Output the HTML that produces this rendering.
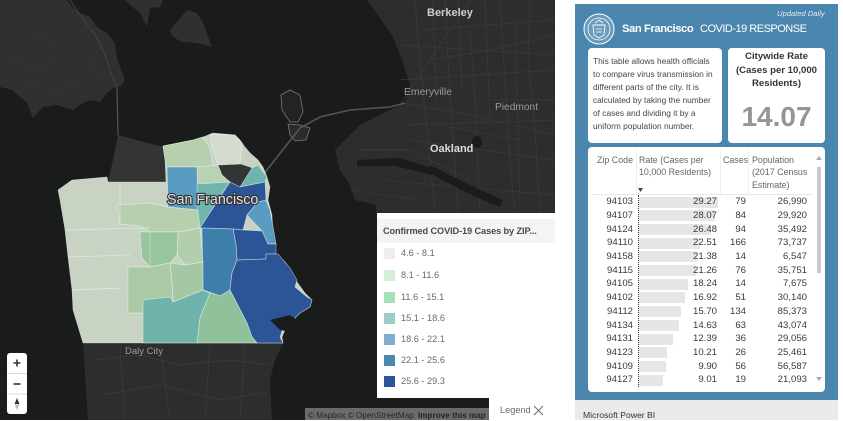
<!DOCTYPE html>
<html>
<head>
<meta charset="utf-8">
<style>
  html,body{margin:0;padding:0;background:#fff;}
  body{width:843px;height:420px;overflow:hidden;position:relative;font-family:"Liberation Sans",sans-serif;}
  .abs{position:absolute;}
  .panel{left:575px;top:4px;width:263px;height:396px;background:#4a86ae;}
  .box{background:#fff;border-radius:4px;position:absolute;}
  .row{position:absolute;left:0;width:843px;height:13.7px;font-size:9.6px;color:#3a3a3a;line-height:13.7px;}
  .row div{position:absolute;top:0;text-align:right;}
  .bar{position:absolute;background:#e6e6e6;height:11px;}
  .lg{position:absolute;left:384px;width:11px;height:11px;}
  .lt{position:absolute;left:401px;font-size:9.2px;color:#6a6a6a;line-height:12px;}
</style>
</head>
<body>

<!-- MAP -->
<svg class="abs" style="left:0;top:0" width="555" height="420" viewBox="0 0 555 420" xmlns="http://www.w3.org/2000/svg">
  <rect width="555" height="420" fill="#1a1b1b"/>
  <!-- Marin -->
  <polygon fill="#2f3030" points="0,0 67,0 72,7 80,13 90,17 97,27 107,33 115,43 117,58 120,67 125,80 120,87 113,88 107,93 100,102 90,100 83,103 73,110 63,107 57,105 43,107 37,113 33,118 27,103 20,97 13,90 0,87"/>
  <polygon fill="#2f3030" points="125,0 163,0 160,7 150,8 147,27 140,13 130,5"/>
  <polygon fill="#2f3030" points="170,30 187,10 197,13 203,23 212,47 197,43 182,42 173,37"/>
  <polyline fill="none" stroke="#444" stroke-width="1" points="70,0 80,15 95,35 105,55 112,75 117,88"/>
  <g stroke="#383838" stroke-width="0.6" fill="none">
    <path d="M10,60 L40,70 L60,55 M30,30 L55,45 M20,80 L50,90 L80,85 M90,60 L100,80"/>
  </g>
  <!-- Golden Gate bridge -->
  <line x1="117" y1="88" x2="118" y2="135" stroke="#555" stroke-width="1.2"/>
  <!-- East Bay land -->
  <polygon fill="#2c2d2d" points="367,0 555,0 555,213 376,213 376,205 355,200 350,185 340,170 335,150 345,140 360,125 385,112 405,103 410,85 402,60 392,35 378,15"/>
  <g stroke="#3a3b3b" stroke-width="0.7" fill="none">
    <path d="M400,105 L430,60 L470,0"/>
    <path d="M405,103 L470,115 L555,135"/>
    <path d="M430,60 L490,50 L555,35"/>
    <path d="M415,0 L420,60 L425,110 L430,160 L435,213"/>
    <path d="M445,0 L448,60 L452,120 L458,213"/>
    <path d="M470,30 L475,100 L480,213"/>
    <path d="M500,0 L505,80 L510,160 L515,213"/>
    <path d="M530,0 L528,60 L535,130 L540,213"/>
    <path d="M400,80 L555,70 M410,140 L555,160 M380,180 L555,195 M420,30 L555,20"/>
    <path d="M360,150 L410,150 L470,180 M350,190 L420,200"/>
    <path d="M490,100 L555,100 M440,125 L520,140"/>
    <path d="M433,0 L436,100 M458,0 L462,90 M485,0 L490,120 M515,20 L520,200 M400,45 L555,55 M405,125 L555,120"/>
  </g>
  <!-- Oakland waterways -->
  <path d="M357,160 L400,158 L437,170 L432,175 L395,166 L357,166 Z" fill="#1a1b1b"/>
  <path d="M430,165 L470,185 L503,200 L500,207 L465,192 L428,172 Z" fill="#1a1b1b"/>
  <ellipse cx="477" cy="142" rx="5" ry="6" fill="#1a1b1b"/>
  <!-- Treasure Island -->
  <polygon fill="#222323" stroke="#7a7a7a" stroke-width="0.8" points="281,95 290,90 300,95 303,112 298,122 290,122 282,110"/>
  <polygon fill="#2a2b2b" stroke="#7a7a7a" stroke-width="0.8" points="288,124 300,125 310,128 306,140 295,141 290,135"/>
  <!-- Bay bridge -->
  <polyline fill="none" stroke="#555" stroke-width="1.6" points="263,175 300,128 320,117 350,110 390,107 405,103"/>
  <!-- Daly City land -->
  <polygon fill="#2c2d2d" points="83,343 283,343 275,360 270,380 272,420 88,420"/>
  <g stroke="#3c3d3d" stroke-width="0.7" fill="none">
    <path d="M95,360 L140,355 L180,365 L230,360 L270,365"/>
    <path d="M120,345 L125,420 M160,345 L170,420 M210,345 L205,420 M245,345 L240,420"/>
    <path d="M100,395 L160,385 L220,400 L268,392"/>
  </g>
  <!-- Presidio / SF base land -->
  <polygon fill="#333434" points="108,182 113,160 118,135 163,147 166,182"/>
  <!-- SF base pale -->
  <polygon fill="#c8d3c4" stroke="rgba(255,255,255,0.5)" stroke-width="0.6" points="58,190 72,180 107,177 108,182 166,182 165,160 163,146 193,140 203,137 213,133 225,134 235,135 240,140 245,147 250,153 258,160 263,167 267,177 270,187 268,200 272,215 273,237 276,245 275,253 285,262 292,272 297,282 305,293 312,300 310,307 300,313 295,318 297,325 285,330 282,337 283,343 83,343 73,310 72,290 68,257 65,230 60,200"/>
  <g stroke="rgba(255,255,255,0.5)" stroke-width="0.7" fill="none">
    <polygon fill="#333434" stroke="none" points="218,165 240,164 252,168 240,187 230,182 222,175"/>
    <polygon fill="#b6cfaf" points="163,146 193,140 203,137 210,148 213,166 197,167 166,167 165,160"/>
    <polygon fill="#d4dccf" points="210,134 235,135 242,143 240,164 218,165 213,150"/>
    <polygon fill="#b9d2b2" points="197,167 218,165 222,175 230,182 197,186"/>
    <polygon fill="#5a9bc1" points="167,167 197,167 198,210 168,207"/>
    <polygon fill="#6fb4ad" points="197,184 230,182 200,228 197,228"/>
    <polygon fill="#6fb4ad" points="240,187 252,168 258,165 267,177 265,182"/>
    <polygon fill="#2b5596" points="200,228 230,182 240,187 265,182 266,200 258,202 247,215 243,230 233,229"/>
    <polygon fill="#5a9bc1" points="247,215 258,202 266,200 270,210 274,232 276,244 268,244 262,231"/>
    <polygon fill="#2b5596" points="233,229 243,230 262,231 268,244 276,244 276,254 266,254 266,259 237,260 236,245"/>
    <polygon fill="#3e7eab" points="202,228 233,229 236,245 237,260 232,273 230,290 220,296 203,290"/>
    <polygon fill="#2b5596" points="237,260 266,259 266,254 278,254 290,268 297,280 295,287 307,297 312,300 310,307 300,313 295,318 297,325 283,328 280,337 283,343 257,343 252,337 247,323 230,290 232,273"/>
    <polygon fill="#8fc29b" points="203,290 220,296 230,290 247,323 252,337 257,343 197,343 200,317 210,293"/>
    <polygon fill="#b6cfae" points="117,205 150,203 168,207 198,210 200,228 178,232 150,232 140,226 120,224"/>
    <polygon fill="#b3ceac" points="178,232 200,228 203,262 185,265 177,255"/>
    <polygon fill="#98c49f" points="140,232 150,232 178,232 177,255 170,263 150,267 142,258"/>
    <polygon fill="#a4c8a4" points="170,263 185,265 203,262 203,290 173,302 172,285"/>
    <polygon fill="#acc9a6" points="128,267 150,267 170,263 172,285 173,302 147,300 143,313 128,313"/>
    <polygon fill="#6eb3ac" points="143,300 170,297 173,302 203,290 210,293 200,317 197,343 143,343"/>
    <path d="M65,230 L150,228 M68,257 L130,255 M72,290 L122,288 M120,183 L120,225 M150,232 L150,267"/>
  </g>
  <!-- Bayview inlet -->
  <path d="M270,320 L290,315 L300,322 L292,332 L280,330 Z" fill="#1a1b1b"/>
  <!-- labels -->
  <g font-family="Liberation Sans, sans-serif">
    <text x="427" y="16" font-size="11" font-weight="bold" fill="#cfcfcf">Berkeley</text>
    <text x="404" y="95" font-size="10.4" fill="#9a9a9a">Emeryville</text>
    <text x="495" y="110" font-size="10.2" fill="#9a9a9a">Piedmont</text>
    <text x="430" y="152" font-size="11" font-weight="bold" fill="#dcdcdc">Oakland</text>
    <text x="167" y="204" font-size="14.3" fill="#e2e2e2" stroke="#333" stroke-width="2.2" paint-order="stroke">San Francisco</text>
    <text x="125" y="354" font-size="9.5" fill="#9a9a9a">Daly City</text>
  </g>
  <!-- zoom controls -->
  <rect x="7" y="353" width="20" height="61" rx="3" fill="#fff"/>
  <line x1="7" y1="373.5" x2="27" y2="373.5" stroke="#ddd" stroke-width="1"/>
  <line x1="7" y1="394" x2="27" y2="394" stroke="#ddd" stroke-width="1"/>
  <path d="M13.5,363 H20.5 M17,359.5 V366.5" stroke="#333" stroke-width="1.6"/>
  <path d="M13.5,384 H20.5" stroke="#333" stroke-width="1.6"/>
  <polygon points="17,398 19.5,404 14.5,404" fill="#333"/>
  <polygon points="17,410 19.5,404.5 14.5,404.5" fill="#bbb"/>
  <!-- attribution -->
  <rect x="305" y="408" width="184" height="12" fill="#6b6b6b"/>
  <text x="308" y="418" font-family="Liberation Sans, sans-serif" font-size="8.2" fill="#262626">© Mapbox © OpenStreetMap</text>
  <text x="418" y="418" font-family="Liberation Sans, sans-serif" font-size="8.2" font-weight="bold" fill="#262626">Improve this map</text>
</svg>

<!-- Legend -->
<div class="abs" style="left:377px;top:213px;width:178px;height:185px;background:#fff;"></div>
<div class="abs" style="left:377px;top:219px;width:178px;height:24px;background:#f4f4f4;"></div>
<div class="abs" style="left:383px;top:225px;font-size:9.2px;font-weight:bold;color:#4a4a4a;line-height:13px;white-space:nowrap;letter-spacing:-0.1px;">Confirmed COVID-19 Cases by ZIP...</div>
<div class="lg" style="top:247.5px;background:#eeeeee;"></div><div class="lt" style="top:247px;">4.6 - 8.1</div>
<div class="lg" style="top:269.5px;background:#d5efd5;"></div><div class="lt" style="top:269px;">8.1 - 11.6</div>
<div class="lg" style="top:291.5px;background:#a8dfbb;"></div><div class="lt" style="top:291px;">11.6 - 15.1</div>
<div class="lg" style="top:312.5px;background:#9dcccb;"></div><div class="lt" style="top:312px;">15.1 - 18.6</div>
<div class="lg" style="top:333.5px;background:#7eafd0;"></div><div class="lt" style="top:333px;">18.6 - 22.1</div>
<div class="lg" style="top:354.5px;background:#4c89b2;"></div><div class="lt" style="top:354px;">22.1 - 25.6</div>
<div class="lg" style="top:375.5px;background:#2c549f;"></div><div class="lt" style="top:375px;">25.6 - 29.3</div>
<div class="abs" style="left:489px;top:398px;width:66px;height:22px;background:#fff;"></div>
<div class="abs" style="left:500px;top:404px;font-size:9.2px;color:#6a6a6a;line-height:12px;">Legend</div>
<svg class="abs" style="left:533px;top:405px" width="11" height="11"><path d="M1,1 L10,10 M10,1 L1,10" stroke="#777" stroke-width="1.2"/></svg>

<!-- Right panel -->
<div class="abs panel"></div>
<svg class="abs" style="left:583px;top:13px" width="32" height="32">
  <circle cx="16" cy="16" r="15" fill="rgba(255,255,255,0.18)" stroke="#fff" stroke-width="1"/>
  <circle cx="16" cy="16" r="11" fill="none" stroke="#fff" stroke-width="0.8"/>
  <path d="M10,12 L22,12 L21,22 L16,25 L11,22 Z" fill="none" stroke="#fff" stroke-width="0.9"/>
  <path d="M12,10 L16,7 L20,10" fill="none" stroke="#fff" stroke-width="0.9"/>
  <path d="M13,16 H19 M13,19 H19" stroke="#fff" stroke-width="0.7"/>
</svg>
<div class="abs" style="left:622px;top:21px;font-size:11.2px;font-weight:bold;color:#fff;letter-spacing:-0.4px;line-height:16px;white-space:nowrap;">San Francisco</div>
<div class="abs" style="left:700px;top:21px;font-size:11px;color:#fff;letter-spacing:-0.5px;line-height:16px;white-space:nowrap;">COVID-19 RESPONSE</div>
<div class="abs" style="left:777px;top:9px;font-size:7.6px;font-style:italic;color:#e3ecf3;line-height:10px;white-space:nowrap;">Updated Daily</div>

<div class="box" style="left:588px;top:48px;width:134px;height:95px;"></div>
<div class="abs" style="left:593px;top:54.5px;font-size:8.35px;color:#444;line-height:13px;white-space:nowrap;">This table allows health officials<br>to compare virus transmission in<br>different parts of the city. It is<br>calculated by taking the number<br>of cases and dividing it by a<br>uniform population number.</div>

<div class="box" style="left:728px;top:48px;width:97px;height:95px;"></div>
<div class="abs" style="left:728px;top:50px;width:97px;text-align:center;font-size:9.6px;font-weight:bold;color:#333;line-height:13.5px;">Citywide Rate<br>(Cases per 10,000<br>Residents)</div>
<div class="abs" style="left:728px;top:103.3px;width:97px;text-align:center;font-size:28px;font-weight:bold;color:#959595;line-height:28px;">14.07</div>

<div class="box" style="left:588px;top:147px;width:237px;height:245px;"></div>
<div class="abs" style="left:636px;top:150px;width:1px;height:44px;background:#eee;"></div>
<div class="abs" style="left:720px;top:150px;width:1px;height:44px;background:#eee;"></div>
<div class="abs" style="left:748px;top:150px;width:1px;height:44px;background:#eee;"></div>
<div class="abs" style="left:592px;top:194px;width:221px;height:1px;background:#e6e6e6;"></div>
<div class="abs" style="left:597px;top:154px;font-size:8.9px;color:#666;line-height:12.3px;white-space:nowrap;">Zip Code</div>
<div class="abs" style="left:639px;top:154px;font-size:8.9px;color:#666;line-height:12.3px;white-space:nowrap;">Rate (Cases per<br>10,000 Residents)</div>
<div class="abs" style="left:723px;top:154px;font-size:8.9px;color:#666;line-height:12.3px;white-space:nowrap;">Cases</div>
<div class="abs" style="left:752px;top:154px;font-size:8.9px;color:#666;line-height:12.3px;white-space:nowrap;">Population<br>(2017 Census<br>Estimate)</div>
<svg class="abs" style="left:638px;top:188px" width="6" height="5"><polygon points="0,0 5,0 2.5,4" fill="#444"/></svg>
<!-- scrollbar -->
<div class="abs" style="left:817px;top:167px;width:4px;height:106px;background:#c9c9c9;"></div>
<svg class="abs" style="left:816px;top:156px" width="6" height="4"><polygon points="3,0 6,4 0,4" fill="#aaa"/></svg>
<svg class="abs" style="left:816px;top:377px" width="6" height="4"><polygon points="0,0 6,0 3,4" fill="#aaa"/></svg>
<!-- bars -->
<div class="bar" style="left:639px;top:196.5px;width:79px;"></div>
<div class="bar" style="left:639px;top:210.2px;width:75.8px;"></div>
<div class="bar" style="left:639px;top:223.9px;width:71.5px;"></div>
<div class="bar" style="left:639px;top:237.6px;width:60.8px;"></div>
<div class="bar" style="left:639px;top:251.3px;width:57.7px;"></div>
<div class="bar" style="left:639px;top:265px;width:57.4px;"></div>
<div class="bar" style="left:639px;top:278.7px;width:49.2px;"></div>
<div class="bar" style="left:639px;top:292.4px;width:45.7px;"></div>
<div class="bar" style="left:639px;top:306.1px;width:42.4px;"></div>
<div class="bar" style="left:639px;top:319.8px;width:39.5px;"></div>
<div class="bar" style="left:639px;top:333.5px;width:33.5px;"></div>
<div class="bar" style="left:639px;top:347.2px;width:27.6px;"></div>
<div class="bar" style="left:639px;top:360.9px;width:26.7px;"></div>
<div class="bar" style="left:639px;top:374.6px;width:24.3px;"></div>
<div class="abs" style="left:638px;top:195px;width:0;height:192px;border-left:1px dotted #333;"></div>
<!-- rows -->
<div class="row" style="top:195.2px"><div style="right:210px">94103</div><div style="right:126px">29.27</div><div style="right:97px">79</div><div style="right:36px">26,990</div></div>
<div class="row" style="top:208.9px"><div style="right:210px">94107</div><div style="right:126px">28.07</div><div style="right:97px">84</div><div style="right:36px">29,920</div></div>
<div class="row" style="top:222.6px"><div style="right:210px">94124</div><div style="right:126px">26.48</div><div style="right:97px">94</div><div style="right:36px">35,492</div></div>
<div class="row" style="top:236.3px"><div style="right:210px">94110</div><div style="right:126px">22.51</div><div style="right:97px">166</div><div style="right:36px">73,737</div></div>
<div class="row" style="top:250px"><div style="right:210px">94158</div><div style="right:126px">21.38</div><div style="right:97px">14</div><div style="right:36px">6,547</div></div>
<div class="row" style="top:263.7px"><div style="right:210px">94115</div><div style="right:126px">21.26</div><div style="right:97px">76</div><div style="right:36px">35,751</div></div>
<div class="row" style="top:277.4px"><div style="right:210px">94105</div><div style="right:126px">18.24</div><div style="right:97px">14</div><div style="right:36px">7,675</div></div>
<div class="row" style="top:291.1px"><div style="right:210px">94102</div><div style="right:126px">16.92</div><div style="right:97px">51</div><div style="right:36px">30,140</div></div>
<div class="row" style="top:304.8px"><div style="right:210px">94112</div><div style="right:126px">15.70</div><div style="right:97px">134</div><div style="right:36px">85,373</div></div>
<div class="row" style="top:318.5px"><div style="right:210px">94134</div><div style="right:126px">14.63</div><div style="right:97px">63</div><div style="right:36px">43,074</div></div>
<div class="row" style="top:332.2px"><div style="right:210px">94131</div><div style="right:126px">12.39</div><div style="right:97px">36</div><div style="right:36px">29,056</div></div>
<div class="row" style="top:345.9px"><div style="right:210px">94123</div><div style="right:126px">10.21</div><div style="right:97px">26</div><div style="right:36px">25,461</div></div>
<div class="row" style="top:359.6px"><div style="right:210px">94109</div><div style="right:126px">9.90</div><div style="right:97px">56</div><div style="right:36px">56,587</div></div>
<div class="row" style="top:373.3px"><div style="right:210px">94127</div><div style="right:126px">9.01</div><div style="right:97px">19</div><div style="right:36px">21,093</div></div>

<!-- bottom bar -->
<div class="abs" style="left:575px;top:400px;width:263px;height:20px;background:#eaeaea;"></div>
<div class="abs" style="left:583px;top:409px;font-size:8.6px;color:#333;line-height:12px;white-space:nowrap;">Microsoft Power BI</div>

</body>
</html>
